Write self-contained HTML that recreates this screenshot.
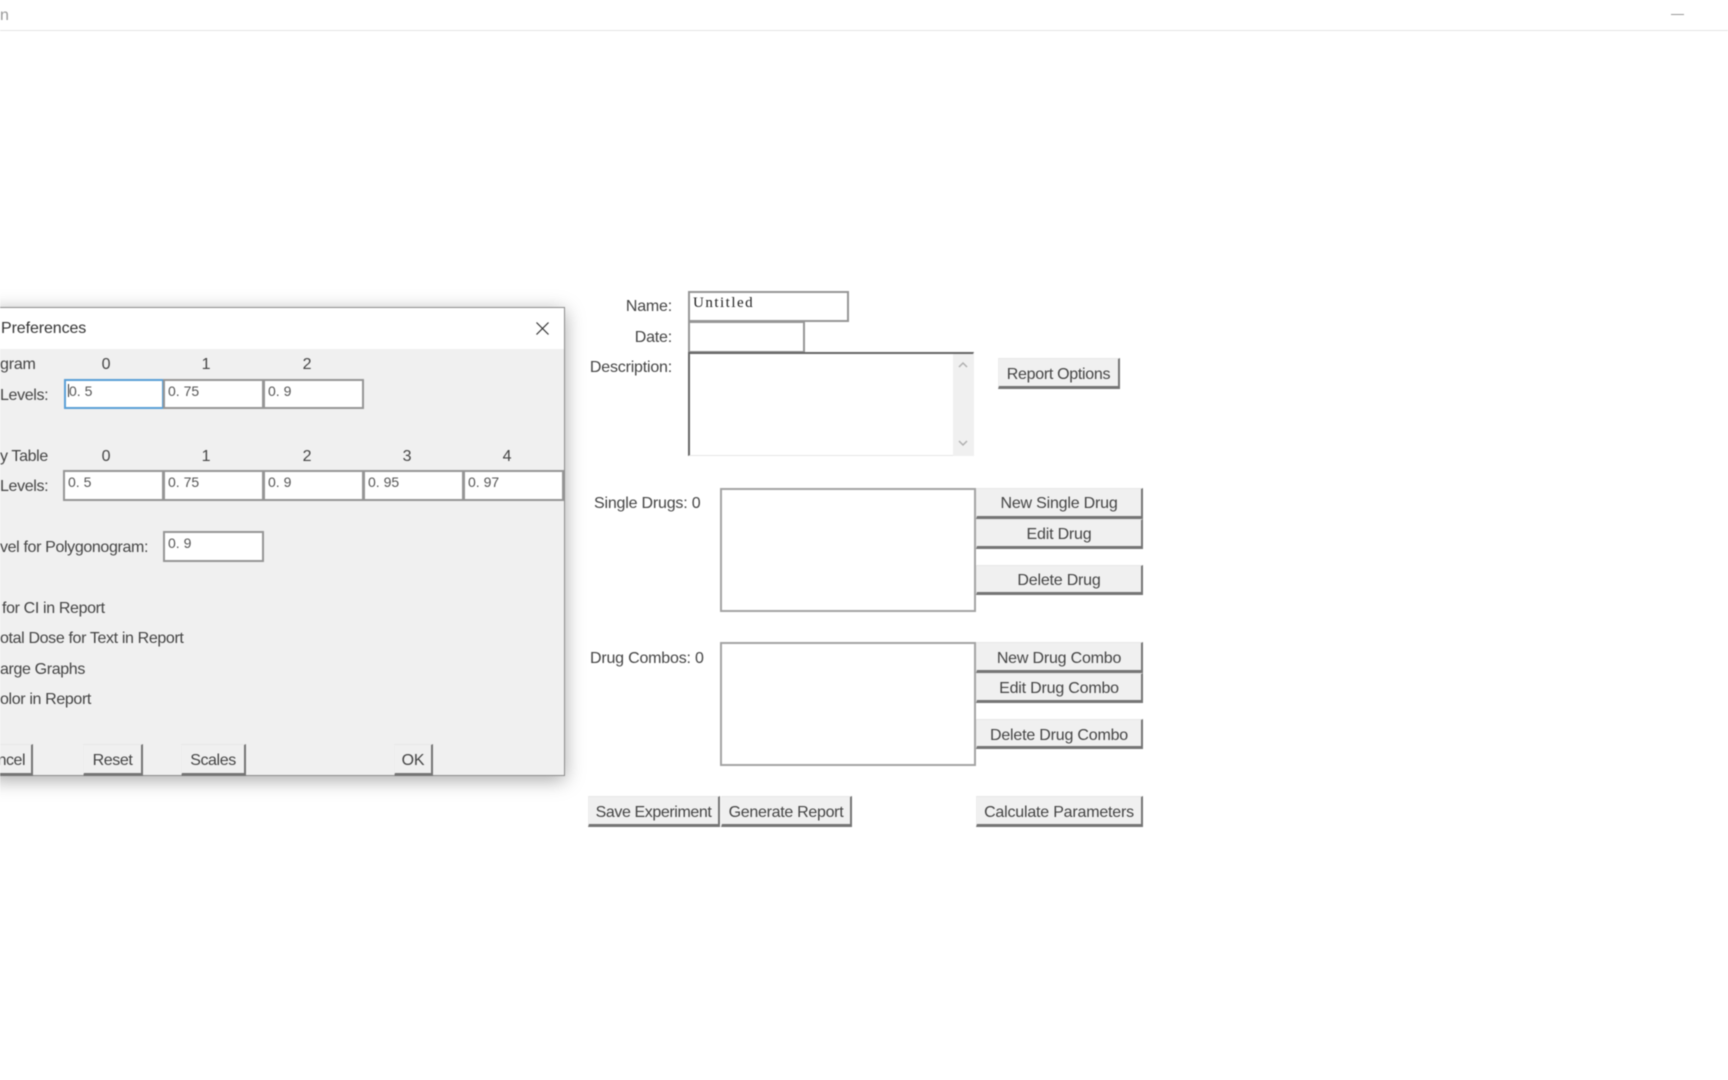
<!DOCTYPE html>
<html><head><meta charset="utf-8"><style>
html,body{margin:0;padding:0;background:#fff;width:1728px;height:1080px;overflow:hidden}
#p{position:relative;width:1728px;height:1080px;overflow:hidden;font-family:"Liberation Sans",sans-serif;font-size:16px;color:#444;filter:blur(.4px)}
#p div{position:absolute;box-sizing:border-box;white-space:nowrap}
.t{height:20px;line-height:20px;letter-spacing:-.2px}
.d{letter-spacing:-.36px}
.r{text-align:right}.c{text-align:center}
.f{background:#fff;border:2px solid #969696;font-size:14px;padding-left:3px;line-height:20px;color:#555}
.l{background:#fff;border:2px solid #a4a4a4}
.b{background:#f0f0f0;border-right:2px solid #757575;border-bottom:3px solid #757575;border-top:1px solid #e8e8e8;border-left:1px solid #ececec;text-align:center;letter-spacing:-.2px;color:#444;line-height:30px}
</style></head><body><div id="p">
<div style="left:0;top:30px;width:1728px;height:1px;background:#e4e4e4"></div>
<div class="t" style="left:0;top:6px;color:#999">n</div>
<div style="left:1671px;top:14px;width:13px;height:1px;background:#999"></div>

<div style="left:-10px;top:307px;width:575px;height:469px;background:#f0f0f0;border:1px solid #8c8c8c;box-shadow:0 4px 18px rgba(0,0,0,.35)"></div>
<div style="left:0;top:308px;width:564px;height:41px;background:#fff"></div>
<div class="t" style="left:1px;top:319px;color:#333;letter-spacing:-.1px">Preferences</div>
<svg style="position:absolute;left:536px;top:322px" width="13" height="13"><path d="M0.5 0.5L12.5 12.5M12.5 0.5L0.5 12.5" stroke="#333" stroke-width="1.2" fill="none"/></svg>

<div class="t" style="left:0;top:355px">gram</div>
<div class="t c" style="left:96px;top:355px;width:20px">0</div>
<div class="t c" style="left:196px;top:355px;width:20px">1</div>
<div class="t c" style="left:297px;top:355px;width:20px">2</div>
<div class="t d" style="left:0;top:386px">Levels:</div>
<div class="f" style="left:64px;top:379px;width:100px;height:30px;border-color:#5a9fd6">0. 5</div>
<div style="left:68px;top:384px;width:1px;height:13px;background:#333"></div>
<div class="f" style="left:163px;top:379px;width:101px;height:30px">0. 75</div>
<div class="f" style="left:263px;top:379px;width:101px;height:30px">0. 9</div>

<div class="t d" style="left:0;top:447px">y Table</div>
<div class="t c" style="left:96px;top:447px;width:20px">0</div>
<div class="t c" style="left:196px;top:447px;width:20px">1</div>
<div class="t c" style="left:297px;top:447px;width:20px">2</div>
<div class="t c" style="left:397px;top:447px;width:20px">3</div>
<div class="t c" style="left:497px;top:447px;width:20px">4</div>
<div class="t d" style="left:0;top:477px">Levels:</div>
<div class="f" style="left:63px;top:470px;width:101px;height:31px">0. 5</div>
<div class="f" style="left:163px;top:470px;width:101px;height:31px">0. 75</div>
<div class="f" style="left:263px;top:470px;width:101px;height:31px">0. 9</div>
<div class="f" style="left:363px;top:470px;width:101px;height:31px">0. 95</div>
<div class="f" style="left:463px;top:470px;width:101px;height:31px">0. 97</div>

<div class="t d" style="left:0;top:538px">vel for Polygonogram:</div>
<div class="f" style="left:163px;top:531px;width:101px;height:31px">0. 9</div>
<div class="t d" style="left:2px;top:599px">for CI in Report</div>
<div class="t d" style="left:0;top:629px">otal Dose for Text in Report</div>
<div class="t d" style="left:0;top:660px">arge Graphs</div>
<div class="t d" style="left:0;top:690px">olor in Report</div>

<div class="b" style="left:-20px;top:744px;width:53px;height:32px;text-align:right;padding-right:6px;line-height:31px;letter-spacing:-.5px">ncel</div>
<div class="b" style="left:83px;top:744px;width:60px;height:32px;line-height:31px;letter-spacing:-.4px">Reset</div>
<div class="b" style="left:181px;top:744px;width:65px;height:32px;line-height:31px;letter-spacing:-.4px">Scales</div>
<div class="b" style="left:394px;top:744px;width:39px;height:32px;line-height:31px">OK</div>

<div class="t r" style="left:600px;top:297px;width:72px">Name:</div>
<div class="f" style="left:688px;top:291px;width:161px;height:31px;font-family:'Liberation Serif',serif;font-size:15px;letter-spacing:1.5px;color:#222;padding-left:3px">Untitled</div>
<div class="t r" style="left:600px;top:328px;width:72px">Date:</div>
<div class="f" style="left:688px;top:321px;width:117px;height:32px"></div>
<div class="t r" style="left:572px;top:358px;width:100px">Description:</div>
<div style="left:688px;top:352px;width:286px;height:104px;background:#fff;border-top:2px solid #666;border-left:2px solid #666;border-bottom:1px solid #e6e6e6;border-right:1px solid #e6e6e6"></div>
<div style="left:953px;top:354px;width:21px;height:102px;background:#f0f0f0"></div>
<svg style="position:absolute;left:957px;top:361px" width="12" height="88"><path d="M2 6L6 2L10 6M2 80L6 84L10 80" stroke="#b0b0b0" stroke-width="1.5" fill="none"/></svg>
<div class="b" style="left:998px;top:358px;width:122px;height:31px;line-height:31px;letter-spacing:-.3px">Report Options</div>

<div class="t" style="left:594px;top:494px">Single Drugs: 0</div>
<div class="l" style="left:720px;top:488px;width:256px;height:124px"></div>
<div class="b" style="left:976px;top:488px;width:167px;height:31px">New Single Drug</div>
<div class="b" style="left:976px;top:519px;width:167px;height:30px">Edit Drug</div>
<div class="b" style="left:976px;top:565px;width:167px;height:30px">Delete Drug</div>

<div class="t" style="left:590px;top:649px">Drug Combos: 0</div>
<div class="l" style="left:720px;top:642px;width:256px;height:124px"></div>
<div class="b" style="left:976px;top:642px;width:167px;height:31px;line-height:31px">New Drug Combo</div>
<div class="b" style="left:976px;top:673px;width:167px;height:30px">Edit Drug Combo</div>
<div class="b" style="left:976px;top:719px;width:167px;height:30px;line-height:31px">Delete Drug Combo</div>

<div class="b" style="left:588px;top:796px;width:132px;height:31px;line-height:31px;letter-spacing:-.4px">Save Experiment</div>
<div class="b" style="left:721px;top:796px;width:131px;height:31px;line-height:31px;letter-spacing:-.3px">Generate Report</div>
<div class="b" style="left:976px;top:796px;width:167px;height:31px;line-height:31px">Calculate Parameters</div>
</div></body></html>
